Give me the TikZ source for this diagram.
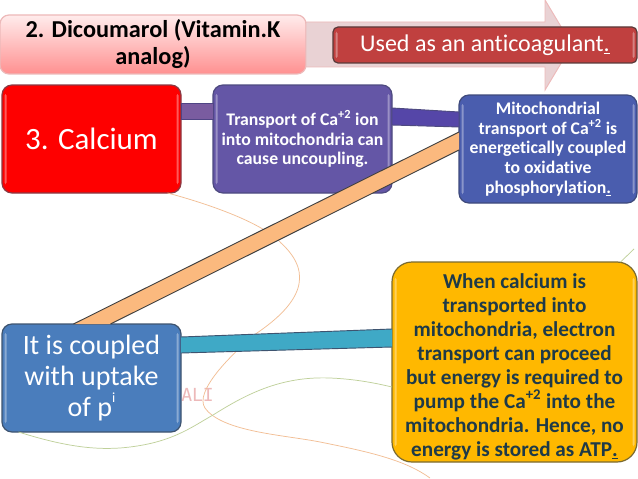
\documentclass[tikz,border=0pt]{standalone}
\usepackage{fontspec}
\setmainfont[Ligatures=NoCommon]{Carlito}
\newfontfamily\wmfont{DejaVu Sans Mono}
\usetikzlibrary{calc}
\newdimen\px \px=.75pt
\definecolor{calred}{HTML}{FE0000}
\definecolor{calrim}{HTML}{8A3A44}
\definecolor{purplebox}{HTML}{6456A6}
\definecolor{purplerim}{HTML}{4E4A80}
\definecolor{mitobox}{HTML}{4A5DAE}
\definecolor{mitorim}{HTML}{3F4A7C}
\definecolor{bluebox}{HTML}{4A7DBC}
\definecolor{bluerim}{HTML}{3E5470}
\definecolor{yellowbox}{HTML}{FFB800}
\definecolor{yellowrim}{HTML}{7A6A30}
\definecolor{usedbox}{HTML}{C0403F}
\definecolor{usedrim}{HTML}{5A3A3A}
\definecolor{darktext}{HTML}{1E3A48}
\definecolor{pinkarrow}{HTML}{E9D2D4}
\definecolor{pinkedge}{HTML}{EDB9B9}
\definecolor{orangeband}{HTML}{FBB97E}
\definecolor{tealband}{HTML}{3FA9C6}
\definecolor{thinorange}{HTML}{F2BE94}
\definecolor{thingreen}{HTML}{BFD09A}
\definecolor{bandone}{HTML}{7A5CA0}
\definecolor{bandtwo}{HTML}{5546A8}
\newcommand{\fs}[2]{\fontsize{#1\px}{#2\px}\selectfont}
\tikzset{
  x=.75pt,y=-.75pt,
  card/.style n args={4}{draw=#2,line width=.9pt,fill=#1,rounded corners=#4*\px,
    inner sep=0pt,outer sep=0pt,align=center,text=white,
    path picture={
      \fill[white,opacity=.35,rounded corners=1pt]
        ([xshift=2.5*\px,yshift=-#3*\px]path picture bounding box.north west)
        rectangle ([xshift=4.5*\px,yshift=#3*\px]path picture bounding box.south west);
      \fill[white,opacity=.35,rounded corners=1pt]
        ([xshift=-4.5*\px,yshift=-#3*\px]path picture bounding box.north east)
        rectangle ([xshift=-2.5*\px,yshift=#3*\px]path picture bounding box.south east);
    }},
  band/.style={line width=.7pt},
  thin curve/.style={line width=.55pt},
}
\begin{document}
\begin{tikzpicture}
\useasboundingbox (0,0) rectangle (638,478);
\fill[white] (0,0) rectangle (638,478);
% watermark under the lower box
\node[anchor=west,inner sep=0pt,text=pinkedge,font=\wmfont\fs{18}{20}] (mark) at (181,395) {ALI};
% nodes
\node[draw=pinkedge,line width=.9pt,top color=white!70!pink,bottom color=red!35!pink!85!white,
  rounded corners=9*\px,minimum width=306*\px,minimum height=59*\px,inner sep=0pt,outer sep=0pt,
  align=center,text=black,font=\fs{24.3}{27}\bfseries] (dico) at (153,44.5)
  {2. Dicoumarol (Vitamin.K\\analog)};
\coordinate (tip) at (572,45);
\draw[draw=pinkedge,fill=pinkarrow,line width=.7pt]
  ([yshift=22.5*\px]dico.east) -- (545,22) -- (545,0) -- (tip) -- (545,90) -- (545,67)
  -- ([yshift=-22.5*\px]dico.east) -- cycle;
\node[card={usedbox}{usedrim}{5}{5},minimum width=304*\px,minimum height=36*\px,font=\fs{24}{28}] (used) at (485,45)
  {Used as an anticoagulant\underline{.}};
\node[card={calred}{calrim}{9}{10},minimum width=179*\px,minimum height=108*\px,font=\fs{31}{36}] (calcium) at (91.5,139)
  {3. Calcium};
\node[card={purplebox}{purplerim}{9}{10},minimum width=179*\px,minimum height=108*\px,font=\fs{17.7}{19.5}\bfseries] (transport) at (302.5,139)
  {Transport of Ca\textsuperscript{+2} ion\\into mitochondria can\\cause uncoupling.};
\node[card={mitobox}{mitorim}{9}{10},minimum width=178*\px,minimum height=108*\px,font=\fs{17.7}{19.7}\bfseries] (mito) at (548,149)
  {Mitochondrial\\transport of Ca\textsuperscript{+2} is\\energetically coupled\\to oxidative\\phosphorylation\underline{.}};
\node[card={bluebox}{bluerim}{9}{10},minimum width=179*\px,minimum height=108*\px,font=\fs{28}{31}] (uptake) at (91.5,378)
  {It is coupled\\with uptake\\of p\raisebox{.5em}{\fs{14}{14}i}};
% orange thin curve passes under the yellow box
\coordinate (orangeend) at (430,478);
\draw[thinorange,thin curve] ([xshift=76*\px]calcium.south)
  .. controls (205,203) and (262,222) .. (281,243)
  .. controls (316,275) and (298,305) .. (257,333)
  .. controls (230,355) and (194,392) .. (205,408)
  .. controls (222,432) and (285,435) .. (320,442)
  .. controls (370,452) and (405,460) .. (orangeend);
\node[card={yellowbox}{yellowrim}{16}{20},minimum width=245*\px,minimum height=200*\px,text=darktext,font=\fs{21.2}{24}\bfseries] (atp) at (514.5,362)
  {\rule{0pt}{24\px}When calcium is\\transported into\\mitochondria, electron\\transport can proceed\\but energy is required to\\pump the Ca\textsuperscript{+2} into the\\mitochondria. Hence, no\\energy is stored as ATP\underline{.}};
% thin curves
\coordinate (greenstub) at (634,249);
\draw[thingreen,thin curve] ([xshift=-73*\px]uptake.south)
  .. controls (60,445) and (90,450) .. (120,448)
  .. controls (170,444) and (190,428) .. (213,415)
  .. controls (245,395) and (280,376) .. (330,378)
  .. controls (355,379) and (375,383) .. ([yshift=-25*\px]atp.west);
\draw[thingreen,thin curve] ([xshift=106*\px]atp.north) -- (greenstub);
% bands
\draw[fill=bandone,draw=purplebox!80!black,band]
  ([yshift=36*\px]calcium.east) -- ([yshift=36*\px]transport.west)
  -- ([yshift=20*\px]transport.west) -- ([yshift=20*\px]calcium.east) -- cycle;
\draw[fill=bandtwo,draw=purplerim,band]
  ([yshift=31*\px]transport.east) -- ([yshift=37*\px]mito.west)
  -- ([yshift=22*\px]mito.west) -- ([yshift=14*\px]transport.east) -- cycle;
\fill[orangeband] ([xshift=-18*\px]uptake.north) -- ([yshift=17*\px]mito.west)
  -- ([yshift=-1*\px]mito.west) -- ([xshift=19*\px]uptake.north) -- cycle;
\draw[black!75,band] ([xshift=-18*\px]uptake.north) -- ([yshift=17*\px]mito.west);
\draw[black!75,band] ([xshift=19*\px]uptake.north) -- ([yshift=-1*\px]mito.west);
\fill[tealband] ([yshift=41*\px]uptake.east) -- ([yshift=33*\px]atp.west)
  -- ([yshift=15*\px]atp.west) -- ([yshift=25*\px]uptake.east) -- cycle;
\draw[bluerim,band] ([yshift=41*\px]uptake.east) -- ([yshift=33*\px]atp.west);
\draw[bluerim,band] ([yshift=25*\px]uptake.east) -- ([yshift=15*\px]atp.west);
\end{tikzpicture}
\end{document}
